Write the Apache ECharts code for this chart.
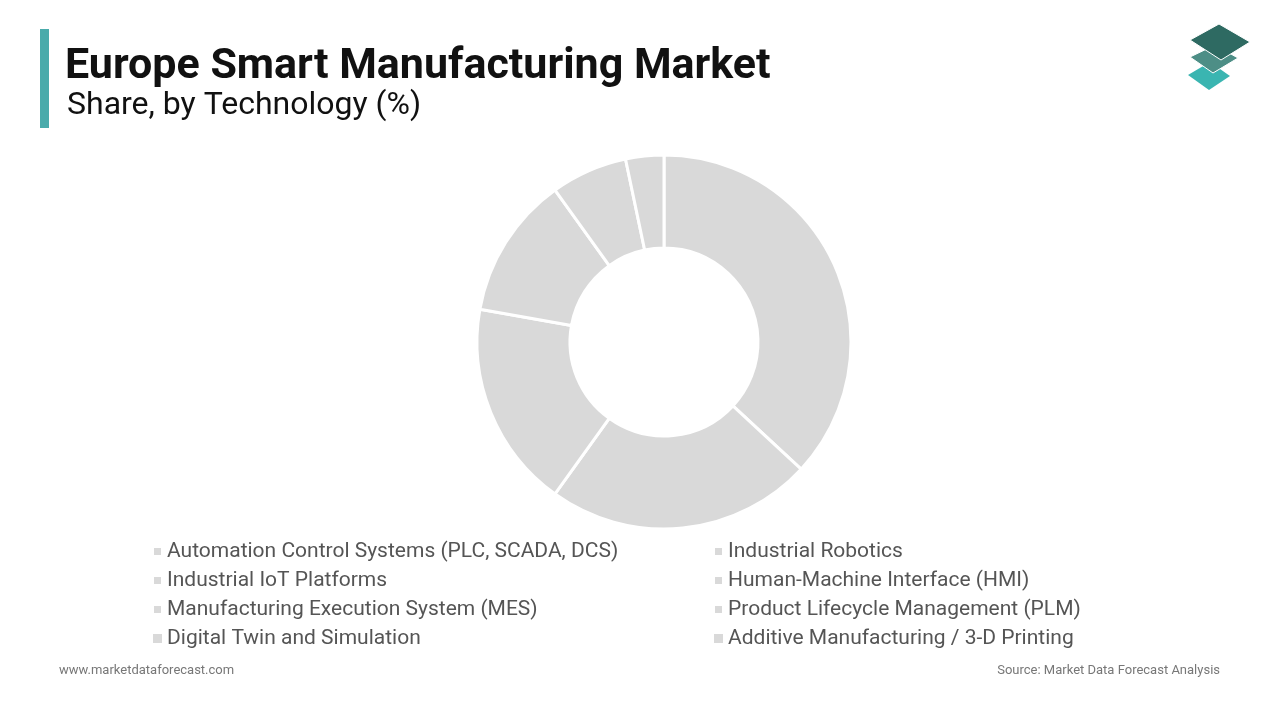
<!DOCTYPE html>
<html>
<head>
<meta charset="utf-8">
<script src="https://cdn.jsdelivr.net/npm/echarts@6/dist/echarts.min.js"></script>
<style>
  html, body { margin: 0; padding: 0; background: #fff; }
  #chart { width: 1280px; height: 720px; }
</style>
</head>
<body>
<div id="chart"></div>
<script>
// categories, in legend order (left column then right column)
const leftNames = [
  'Automation Control Systems (PLC, SCADA, DCS)',
  'Industrial IoT Platforms',
  'Manufacturing Execution System (MES)',
  'Digital Twin and Simulation'
]
const rightNames = [
  'Industrial Robotics',
  'Human-Machine Interface (HMI)',
  'Product Lifecycle Management (PLM)',
  'Additive Manufacturing / 3-D Printing'
]
// share (%), clockwise from 12 o'clock
const sliceNames = [
  'Automation Control Systems (PLC, SCADA, DCS)',
  'Industrial Robotics',
  'Industrial IoT Platforms',
  'Human-Machine Interface (HMI)',
  'Manufacturing Execution System (MES)',
  'Product Lifecycle Management (PLM)',
  'Digital Twin and Simulation',
  'Additive Manufacturing / 3-D Printing'
]
const shareValues = [36.9, 23.0, 17.9, 12.3, 6.6, 3.3, 0, 0]

const chart = echarts.init(document.getElementById('chart'))

const legendBase = {
  orient: 'vertical',
  top: 541,
  padding: 0,
  icon: 'rect',
  itemWidth: 9,
  itemHeight: 9,
  itemGap: 8,
  itemTextGap: 7,
  selectedMode: false,
  textStyle: {
    fontFamily: 'Roboto',
    fontSize: 21,
    lineHeight: 21,
    color: '#555'
  }
}

chart.setOption({
  color: ['#d9d9d9'],
  legend: [
    Object.assign({}, legendBase, { left: 152, data: leftNames }),
    Object.assign({}, legendBase, { left: 713, data: rightNames })
  ],
  graphic: [
    { type: 'rect', shape: { x: 40, y: 29, width: 9, height: 99 }, style: { fill: '#4aabab' } },
    {
      type: 'text', left: 65, top: 46,
      style: { text: 'Europe Smart Manufacturing Market', font: 'bold 43px Roboto', fill: '#111' }
    },
    {
      type: 'text', left: 67, top: 90,
      style: { text: 'Share, by Technology (%)', font: '32px Roboto', fill: '#111' }
    },
    // logo
    { type: 'polygon', shape: { points: [[1188, 75], [1210, 62], [1230, 76], [1209, 90]] }, style: { fill: '#3ab5b1' } },
    { type: 'polygon', shape: { points: [[1190, 57], [1215, 45], [1238, 58], [1213, 73]] }, style: { fill: '#4d8e86', stroke: '#fff', lineWidth: 1 } },
    { type: 'polygon', shape: { points: [[1190, 40], [1219, 24], [1250, 42], [1221, 60]] }, style: { fill: '#2e6a62', stroke: '#fff', lineWidth: 1 } },
    {
      type: 'text', left: 59, top: 664,
      style: { text: 'www.marketdataforecast.com', font: '13px Roboto', fill: '#777' }
    },
    {
      type: 'text', right: 60, top: 664,
      style: { text: 'Source: Market Data Forecast Analysis', font: '13px Roboto', fill: '#777' }
    }
  ],
  series: [
    {
      type: 'pie',
      center: [664, 342],
      radius: [94, 187],
      clockwise: true,
      startAngle: 90,
      label: { show: false },
      labelLine: { show: false },
      emphasis: { disabled: true },
      itemStyle: { color: '#d9d9d9', borderColor: '#fff', borderWidth: 3 },
      data: sliceNames.map((n, i) => ({
        name: n,
        value: shareValues[i],
        itemStyle: shareValues[i] === 0 ? { borderWidth: 0 } : undefined
      }))
    }
  ]
})
</script>
</body>
</html>
